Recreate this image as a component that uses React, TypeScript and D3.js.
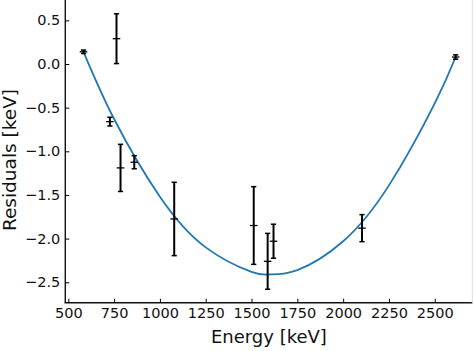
import * as React from 'react';
import * as d3 from 'd3';

// measured peaks: energy [keV], residual [keV], error [keV]
const energies = [583, 727, 763, 785, 860, 1078, 1512, 1588, 1620, 2103, 2614];
const residuals = [0.14, -0.66, 0.29, -1.19, -1.125, -1.775, -1.85, -2.26, -2.03, -1.88, 0.08];
const errors = [0.02, 0.05, 0.285, 0.27, 0.075, 0.42, 0.445, 0.32, 0.195, 0.155, 0.025];

// fitted curve
const fitEnergies = [583, 750, 1000, 1250, 1500, 1600, 1750, 2000, 2250, 2500, 2614];
const fitResiduals = [0.14, -0.63, -1.52, -2.1, -2.38, -2.41, -2.36, -2.03, -1.39, -0.45, 0.08];

const xTicks = [500, 750, 1000, 1250, 1500, 1750, 2000, 2250, 2500];
const yTicks = [-2.5, -2.0, -1.5, -1.0, -0.5, 0.0, 0.5];

const config = {
    width: 474,
    height: 351,
    left: 65.3,
    right: 472.5,
    top: -0.6,
    bottom: 302.7,
};

class ResidualsChart extends React.Component<any, any> {
    node: SVGSVGElement | null = null;

    componentDidMount() {
        this.createGraph();
    }
    componentDidUpdate() {
        this.createGraph();
    }

    createGraph() {
        const svg = d3.select(this.node);
        svg.selectAll("*").remove();
        const font = "'DejaVu Sans', sans-serif";

        let xScale = d3.scaleLinear()
            .domain([483.6, 2706])
            .range([config.left, config.right]);
        let yScale = d3.scaleLinear()
            .domain([-2.734, 0.74])
            .range([config.bottom, config.top]);

        let minus = (s: string) => s.replace("-", "\u2212");

        // x axis
        let xAxis = d3.axisBottom(xScale)
            .tickValues(xTicks)
            .tickSizeInner(-4)
            .tickSizeOuter(0)
            .tickPadding(5)
            .tickFormat((d: any) => d3.format("d")(d));
        let gx = svg.append("g")
            .attr("transform", "translate(0," + config.bottom + ")")
            .call(xAxis);
        gx.select(".domain").remove();
        gx.selectAll("line").attr("stroke", "#000").attr("stroke-width", 1);
        gx.selectAll("text")
            .attr("fill", "#111")
            .style("font-family", font)
            .style("font-size", "14.5px");

        // y axis
        let yAxis = d3.axisLeft(yScale)
            .tickValues(yTicks)
            .tickSizeInner(-4)
            .tickSizeOuter(0)
            .tickPadding(5)
            .tickFormat((d: any) => minus(d3.format(".1f")(d)));
        let gy = svg.append("g")
            .attr("transform", "translate(" + config.left + ",0)")
            .call(yAxis);
        gy.select(".domain").remove();
        gy.selectAll("line").attr("stroke", "#000").attr("stroke-width", 1);
        gy.selectAll("text")
            .attr("fill", "#111")
            .style("font-family", font)
            .style("font-size", "14.5px");

        // frame
        svg.append("line")
            .attr("x1", config.left).attr("x2", config.left)
            .attr("y1", config.top).attr("y2", config.bottom)
            .attr("stroke", "#111").attr("stroke-width", 1.4);
        svg.append("line")
            .attr("x1", config.left - 0.7).attr("x2", config.right)
            .attr("y1", config.bottom).attr("y2", config.bottom)
            .attr("stroke", "#111").attr("stroke-width", 1.4);
        svg.append("line")
            .attr("x1", config.right).attr("x2", config.right)
            .attr("y1", config.top).attr("y2", config.bottom)
            .attr("stroke", "#e4e4e4").attr("stroke-width", 1.4);

        // fit curve
        let line = d3.line<number>()
            .x((d, i) => xScale(fitEnergies[i]))
            .y(d => yScale(d))
            .curve(d3.curveNatural);
        svg.append("path")
            .datum(fitResiduals)
            .attr("d", line)
            .attr("fill", "none")
            .attr("stroke", "#1f77b4")
            .attr("stroke-width", 1.8);

        // error bars
        let data = energies.map((e, i) => ({e: e, r: residuals[i], s: errors[i]}));
        let g = svg.append("g").attr("stroke", "#000");
        let bars = g.selectAll(".bar")
            .data(data)
            .enter()
            .append("g")
            .attr("class", "bar");
        bars.append("line")
            .attr("x1", d => xScale(d.e)).attr("x2", d => xScale(d.e))
            .attr("y1", d => yScale(d.r + d.s)).attr("y2", d => yScale(d.r - d.s))
            .attr("stroke-width", 2);
        bars.append("line")
            .attr("x1", d => xScale(d.e) - 2.6).attr("x2", d => xScale(d.e) + 2.6)
            .attr("y1", d => yScale(d.r + d.s)).attr("y2", d => yScale(d.r + d.s))
            .attr("stroke-width", 1.5);
        bars.append("line")
            .attr("x1", d => xScale(d.e) - 2.6).attr("x2", d => xScale(d.e) + 2.6)
            .attr("y1", d => yScale(d.r - d.s)).attr("y2", d => yScale(d.r - d.s))
            .attr("stroke-width", 1.5);
        bars.append("line")
            .attr("x1", d => xScale(d.e) - 3.8).attr("x2", d => xScale(d.e) + 3.8)
            .attr("y1", d => yScale(d.r)).attr("y2", d => yScale(d.r))
            .attr("stroke-width", 1.3);

        // labels
        svg.append("text")
            .attr("x", (config.left + config.right) / 2)
            .attr("y", 343)
            .attr("text-anchor", "middle")
            .style("font-family", font)
            .style("font-size", "18px")
            .attr("fill", "#111")
            .text("Energy [keV]");
        svg.append("text")
            .attr("transform", "translate(15.5,160) rotate(-90)")
            .attr("text-anchor", "middle")
            .style("font-family", font)
            .style("font-size", "18.5px")
            .attr("fill", "#111")
            .text("Residuals [keV]");
    }

    render() {
        return (
            <svg ref={n => { this.node = n; }}
                 width={config.width} height={config.height}
                 style={{position: "absolute", left: 0, top: 0, background: "#fff"}}>
            </svg>
        );
    }
}

export default function App() {
    return <ResidualsChart/>;
}
